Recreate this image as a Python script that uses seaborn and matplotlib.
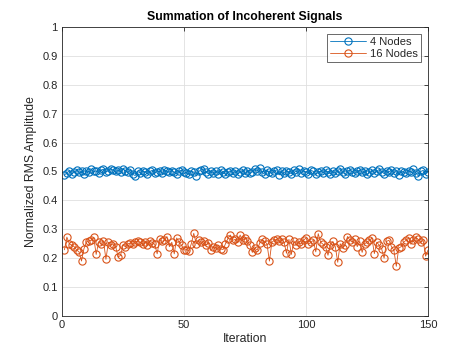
import matplotlib
matplotlib.use("Agg")
import matplotlib.pyplot as plt
import seaborn as sns
import numpy as np
import pandas as pd

iterations = list(range(1, 151))

nodes4 = [
0.488,0.495,0.502,0.492,0.498,0.505,0.497,0.500,0.490,0.503,
0.498,0.507,0.500,0.502,0.496,0.505,0.508,0.499,0.503,0.510,
0.504,0.500,0.506,0.498,0.509,0.502,0.497,0.505,0.490,0.486,
0.500,0.495,0.503,0.498,0.492,0.500,0.504,0.496,0.499,0.502,
0.495,0.506,0.500,0.498,0.503,0.497,0.492,0.501,0.505,0.499,
0.494,0.490,0.503,0.497,0.485,0.500,0.506,0.509,0.498,0.492,
0.502,0.496,0.500,0.493,0.505,0.499,0.490,0.497,0.503,0.495,
0.500,0.492,0.498,0.505,0.496,0.501,0.494,0.499,0.508,0.503,
0.512,0.497,0.490,0.505,0.498,0.494,0.502,0.506,0.488,0.500,
0.495,0.503,0.498,0.492,0.504,0.499,0.510,0.496,0.502,0.498,
0.493,0.505,0.500,0.490,0.497,0.502,0.495,0.504,0.499,0.492,
0.500,0.496,0.503,0.510,0.497,0.491,0.502,0.506,0.498,0.494,
0.500,0.505,0.497,0.502,0.490,0.499,0.504,0.496,0.501,0.507,
0.498,0.493,0.503,0.499,0.505,0.496,0.500,0.488,0.502,0.497,
0.494,0.503,0.499,0.508,0.495,0.485,0.500,0.504,0.492,0.497,
]

nodes16 = [
0.229,0.273,0.250,0.245,0.240,0.228,0.222,0.190,0.233,0.256,
0.260,0.262,0.272,0.213,0.256,0.250,0.260,0.196,0.255,0.245,
0.250,0.240,0.204,0.210,0.245,0.240,0.250,0.252,0.248,0.256,
0.258,0.255,0.250,0.256,0.245,0.260,0.254,0.248,0.215,0.265,
0.258,0.262,0.275,0.240,0.255,0.215,0.270,0.255,0.245,0.228,
0.230,0.225,0.250,0.286,0.250,0.262,0.255,0.258,0.245,0.252,
0.227,0.240,0.235,0.245,0.232,0.230,0.250,0.268,0.280,0.262,
0.265,0.255,0.280,0.262,0.270,0.258,0.245,0.220,0.235,0.228,
0.252,0.265,0.258,0.250,0.190,0.255,0.262,0.265,0.258,0.268,
0.255,0.217,0.265,0.213,0.260,0.245,0.255,0.250,0.262,0.270,
0.248,0.255,0.262,0.222,0.285,0.255,0.248,0.240,0.210,0.245,
0.258,0.240,0.186,0.250,0.235,0.245,0.275,0.262,0.255,0.265,
0.240,0.258,0.220,0.250,0.255,0.262,0.270,0.216,0.255,0.245,
0.232,0.200,0.258,0.262,0.240,0.228,0.172,0.235,0.240,0.255,
0.262,0.270,0.248,0.262,0.273,0.265,0.255,0.262,0.207,0.228,
]

series_names = ["4 Nodes", "16 Nodes"]
colors = ["#0072BD", "#D95319"]
x_ticks = [0, 50, 100, 150]
y_ticks = [round(0.1 * i, 1) for i in range(11)]

sns.set_style("white")
plt.rcParams['font.family'] = ['Liberation Sans', 'DejaVu Sans']

fig = plt.figure(figsize=(4.74, 3.55), dpi=100)
ax = fig.add_axes([0.1308, 0.1099, 0.7722, 0.8141])

df4 = pd.DataFrame({"Iteration": iterations, "Value": nodes4})
df16 = pd.DataFrame({"Iteration": iterations, "Value": nodes16})

for df, name, c in zip([df4, df16], series_names, colors):
    sns.lineplot(data=df, x="Iteration", y="Value", ax=ax, color=c, label=name,
                 marker="o", markersize=5.2, markerfacecolor="none",
                 markeredgecolor=c, markeredgewidth=0.8, linewidth=0.6)

ax.set_xlim(0, 150)
ax.set_ylim(0, 1)
ax.set_xticks(x_ticks)
ax.set_yticks(y_ticks)
ax.set_yticklabels(["0"] + [f"{v:g}" for v in y_ticks[1:]])
ax.grid(True, color="#dfdfdf", linewidth=0.6)
ax.set_axisbelow(True)
for s in ax.spines.values():
    s.set_color("#262626")
    s.set_linewidth(0.6)
ax.tick_params(direction="in", length=3, width=0.6, colors="#262626",
               labelsize=8, top=True, right=True, pad=3)
ax.set_xlabel("Iteration", fontsize=8.8, color="#262626", labelpad=2)
ax.set_ylabel("Normalized RMS Amplitude", fontsize=8.8, color="#262626", labelpad=4)
ax.set_title("Summation of Incoherent Signals", fontsize=8.8, fontweight="bold",
             color="black", pad=5)

leg = ax.legend(loc="upper right", fontsize=8, frameon=True, fancybox=False,
                handlelength=3.2, borderpad=0.3, labelspacing=0.15,
                handletextpad=0.4, borderaxespad=0.6)
leg.get_frame().set_edgecolor("#262626")
leg.get_frame().set_linewidth(0.6)

fig.savefig("out.png", dpi=100, facecolor="white")
